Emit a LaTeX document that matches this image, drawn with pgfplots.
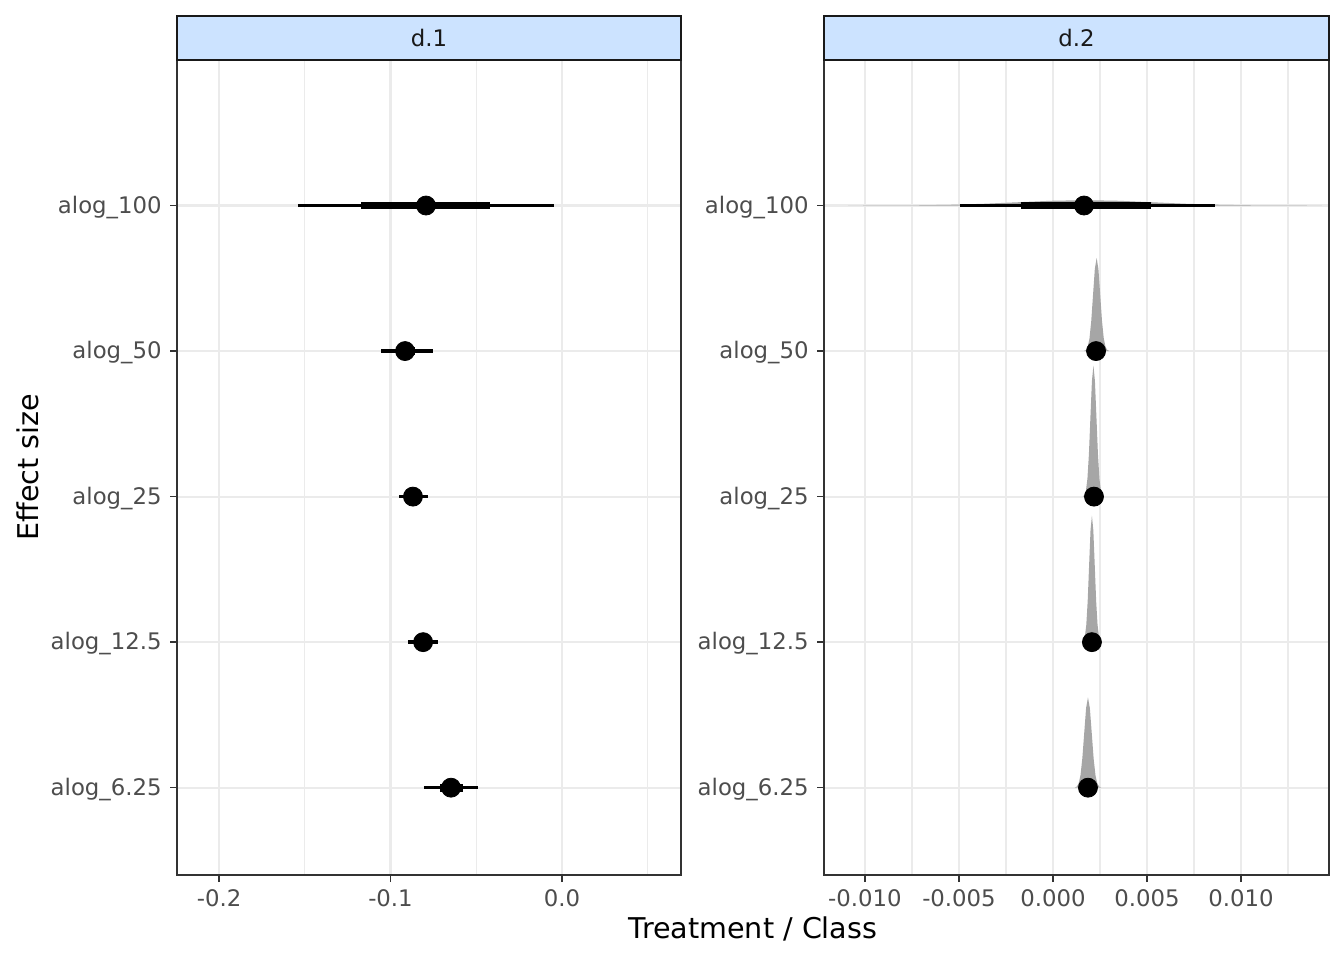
\documentclass[border=0pt]{standalone}
\usepackage{fontspec}
\setmainfont{DejaVu Sans}
\usepackage{pgfplots}
\pgfplotsset{compat=1.18}

\definecolor{stripblue}{HTML}{CCE3FF}
\definecolor{gridgrey}{HTML}{EBEBEB}
\definecolor{framegrey}{HTML}{333333}
\definecolor{labelgrey}{HTML}{4D4D4D}
\definecolor{slabgrey}{HTML}{A6A6A6}

\tikzset{tk/.style={draw=framegrey, line width=0.8pt}}

\pgfplotsset{
  panel/.style={
    scale only axis,
    height=407.5pt,
    ymin=0.4, ymax=6,
    ytick={1,2,3,4,5},
    yticklabels={alog\_6.25,alog\_12.5,alog\_25,alog\_50,alog\_100},
    scaled x ticks=false,
    xtick pos=bottom, ytick pos=left,
    tick align=outside,
    major tick length=3.5pt,
    minor tick length=0pt,
    major tick style={draw=framegrey, line width=0.8pt},
    axis line style={framegrey, line width=0.55pt},
    grid=both,
    major grid style={gridgrey, line width=1.1pt},
    minor grid style={gridgrey, line width=0.55pt},
    tick label style={font=\fontsize{11.4}{13}\selectfont, text=labelgrey, inner sep=0pt},
    xticklabel style={yshift=-3.5pt},
    yticklabel style={anchor=east, xshift=-4pt, yshift=-0.8pt},
    clip=false,
    anchor=south west,
  },
  thinint/.style={black, line width=1.65pt},
  thickint/.style={black, line width=3.9pt},
  pt/.style={only marks, mark=*, mark size=4.75pt, black},
  slab/.style={fill=slabgrey, draw=none},
}

\newcommand{\strip}[1]{%
  \draw[fill=stripblue, draw=black!90, line width=0.6pt]
    (rel axis cs:0,1) rectangle ([yshift=22pt]rel axis cs:1,1);
  \node[font=\fontsize{11.4}{13}\selectfont, text=black!90]
    at ([yshift=11pt]rel axis cs:0.5,1) {#1};
}
\newcommand{\yticks}{%
  \pgfplotsinvokeforeach{1,2,3,4,5}{%
    \draw[tk] ({rel axis cs:0,0} |- {axis cs:0,##1}) -- ++(-3.5pt,0pt);}%
}

\begin{document}
\begin{tikzpicture}
\useasboundingbox (0,0) rectangle (672pt,480pt);

% panel d.1
\begin{axis}[panel,
  at={(88.5pt,42.5pt)}, width=252pt,
  xmin=-0.2245, xmax=0.0694,
  xtick={-0.2,-0.1,0}, xticklabels={-0.2,-0.1,0.0},
  minor xtick={-0.15,-0.05,0.05},
]
\addplot[thinint] coordinates {(-0.154,5) (-0.0049,5)};
\addplot[thickint] coordinates {(-0.1172,5) (-0.0419,5)};
\addplot[thinint] coordinates {(-0.1055,4) (-0.0752,4)};
\addplot[thickint] coordinates {(-0.097,4) (-0.086,4)};
\addplot[thinint] coordinates {(-0.095,3) (-0.078,3)};
\addplot[thickint] coordinates {(-0.091,3) (-0.083,3)};
\addplot[thinint] coordinates {(-0.0898,2) (-0.0723,2)};
\addplot[thickint] coordinates {(-0.085,2) (-0.077,2)};
\addplot[thinint] coordinates {(-0.0805,1) (-0.0492,1)};
\addplot[thickint] coordinates {(-0.071,1) (-0.058,1)};
\addplot[pt] coordinates {(-0.0793,5) (-0.0915,4) (-0.0869,3) (-0.081,2) (-0.0647,1)};
\strip{d.1}
\yticks
\pgfplotsinvokeforeach{-0.2,-0.1,0}{%
  \draw[tk] ({axis cs:#1,1} |- {rel axis cs:0,0}) -- ++(0pt,-3.5pt);}
\end{axis}

% panel d.2
\begin{axis}[panel,
  at={(412pt,42.5pt)}, width=252.5pt,
  xmin=-0.01218, xmax=0.01468,
  xtick={-0.01,-0.005,0,0.005,0.01},
  xticklabels={-0.010,-0.005,0.000,0.005,0.010},
  minor xtick={-0.0075,-0.0025,0.0025,0.0075,0.0125},
]
% alog_100
\addplot[slab] coordinates {
(-0.0109,5) (-0.0109,5.0001) (-0.0091,5.0004) (-0.0073,5.0016) (-0.0055,5.0050)
(-0.0037,5.0120) (-0.0019,5.0224) (-0.0001,5.0327) (0.0017,5.037)
(0.0035,5.0327) (0.0053,5.0224) (0.0071,5.0120) (0.0089,5.0050)
(0.0107,5.0016) (0.0125,5.0004) (0.0143,5.0001) (0.0143,5)} -- cycle;
% alog_50
\addplot[slab] coordinates {
(0.001655,4) (0.001655,4.0014) (0.00175,4.0071) (0.001845,4.0281) (0.00194,4.0866)
(0.002035,4.2078) (0.00213,4.3882) (0.002225,4.5648) (0.00232,4.64)
(0.002415,4.5648) (0.00251,4.3882) (0.002605,4.2078) (0.0027,4.0866)
(0.002795,4.0281) (0.00289,4.0071) (0.002985,4.0014) (0.002985,4)} -- cycle;
% alog_25
\addplot[slab] coordinates {
(0.00159,3) (0.00159,3.0020) (0.00167,3.0100) (0.00175,3.0395) (0.00183,3.1218)
(0.00191,3.2922) (0.00199,3.5459) (0.00207,3.7943) (0.00215,3.9)
(0.00223,3.7943) (0.00231,3.5459) (0.00239,3.2922) (0.00247,3.1218)
(0.00255,3.0395) (0.00263,3.0100) (0.00271,3.0020) (0.00271,3)} -- cycle;
% alog_12.5
\addplot[slab] coordinates {
(0.001545,2) (0.001545,2.0019) (0.00162,2.0097) (0.001695,2.0382) (0.00177,2.1177)
(0.001845,2.2825) (0.00192,2.5277) (0.001995,2.7678) (0.00207,2.87)
(0.002145,2.7678) (0.00222,2.5277) (0.002295,2.2825) (0.00237,2.1177)
(0.002445,2.0382) (0.00252,2.0097) (0.002595,2.0019) (0.002595,2)} -- cycle;
% alog_6.25
\addplot[slab] coordinates {
(0.00116,1) (0.00116,1.0014) (0.00126,1.0069) (0.00136,1.0272) (0.00146,1.0839)
(0.00156,1.2013) (0.00166,1.3760) (0.00176,1.5472) (0.00186,1.62)
(0.00196,1.5472) (0.00206,1.3760) (0.00216,1.2013) (0.00226,1.0839)
(0.00236,1.0272) (0.00246,1.0069) (0.00256,1.0014) (0.00256,1)} -- cycle;
\addplot[thinint] coordinates {(-0.00495,5) (0.0086,5)};
\addplot[thickint] coordinates {(-0.0017,5) (0.0052,5)};
\addplot[thinint] coordinates {(0.00194,4) (0.0027,4)};
\addplot[thickint] coordinates {(0.00213,4) (0.00251,4)};
\addplot[thinint] coordinates {(0.00183,3) (0.00247,3)};
\addplot[thickint] coordinates {(0.00199,3) (0.00231,3)};
\addplot[thinint] coordinates {(0.00177,2) (0.00237,2)};
\addplot[thickint] coordinates {(0.00192,2) (0.00222,2)};
\addplot[thinint] coordinates {(0.00146,1) (0.00226,1)};
\addplot[thickint] coordinates {(0.00166,1) (0.00206,1)};
\addplot[pt] coordinates {(0.00165,5) (0.00229,4) (0.00218,3) (0.00207,2) (0.00186,1)};
\strip{d.2}
\yticks
\pgfplotsinvokeforeach{-0.01,-0.005,0,0.005,0.01}{%
  \draw[tk] ({axis cs:#1,1} |- {rel axis cs:0,0}) -- ++(0pt,-3.5pt);}
\end{axis}

\node[font=\fontsize{14.3}{16}\selectfont] at (376.5pt,15.5pt) {Treatment / Class};
\node[font=\fontsize{14.3}{16}\selectfont, rotate=90] at (14pt,246.5pt) {Effect size};
\end{tikzpicture}
\end{document}
